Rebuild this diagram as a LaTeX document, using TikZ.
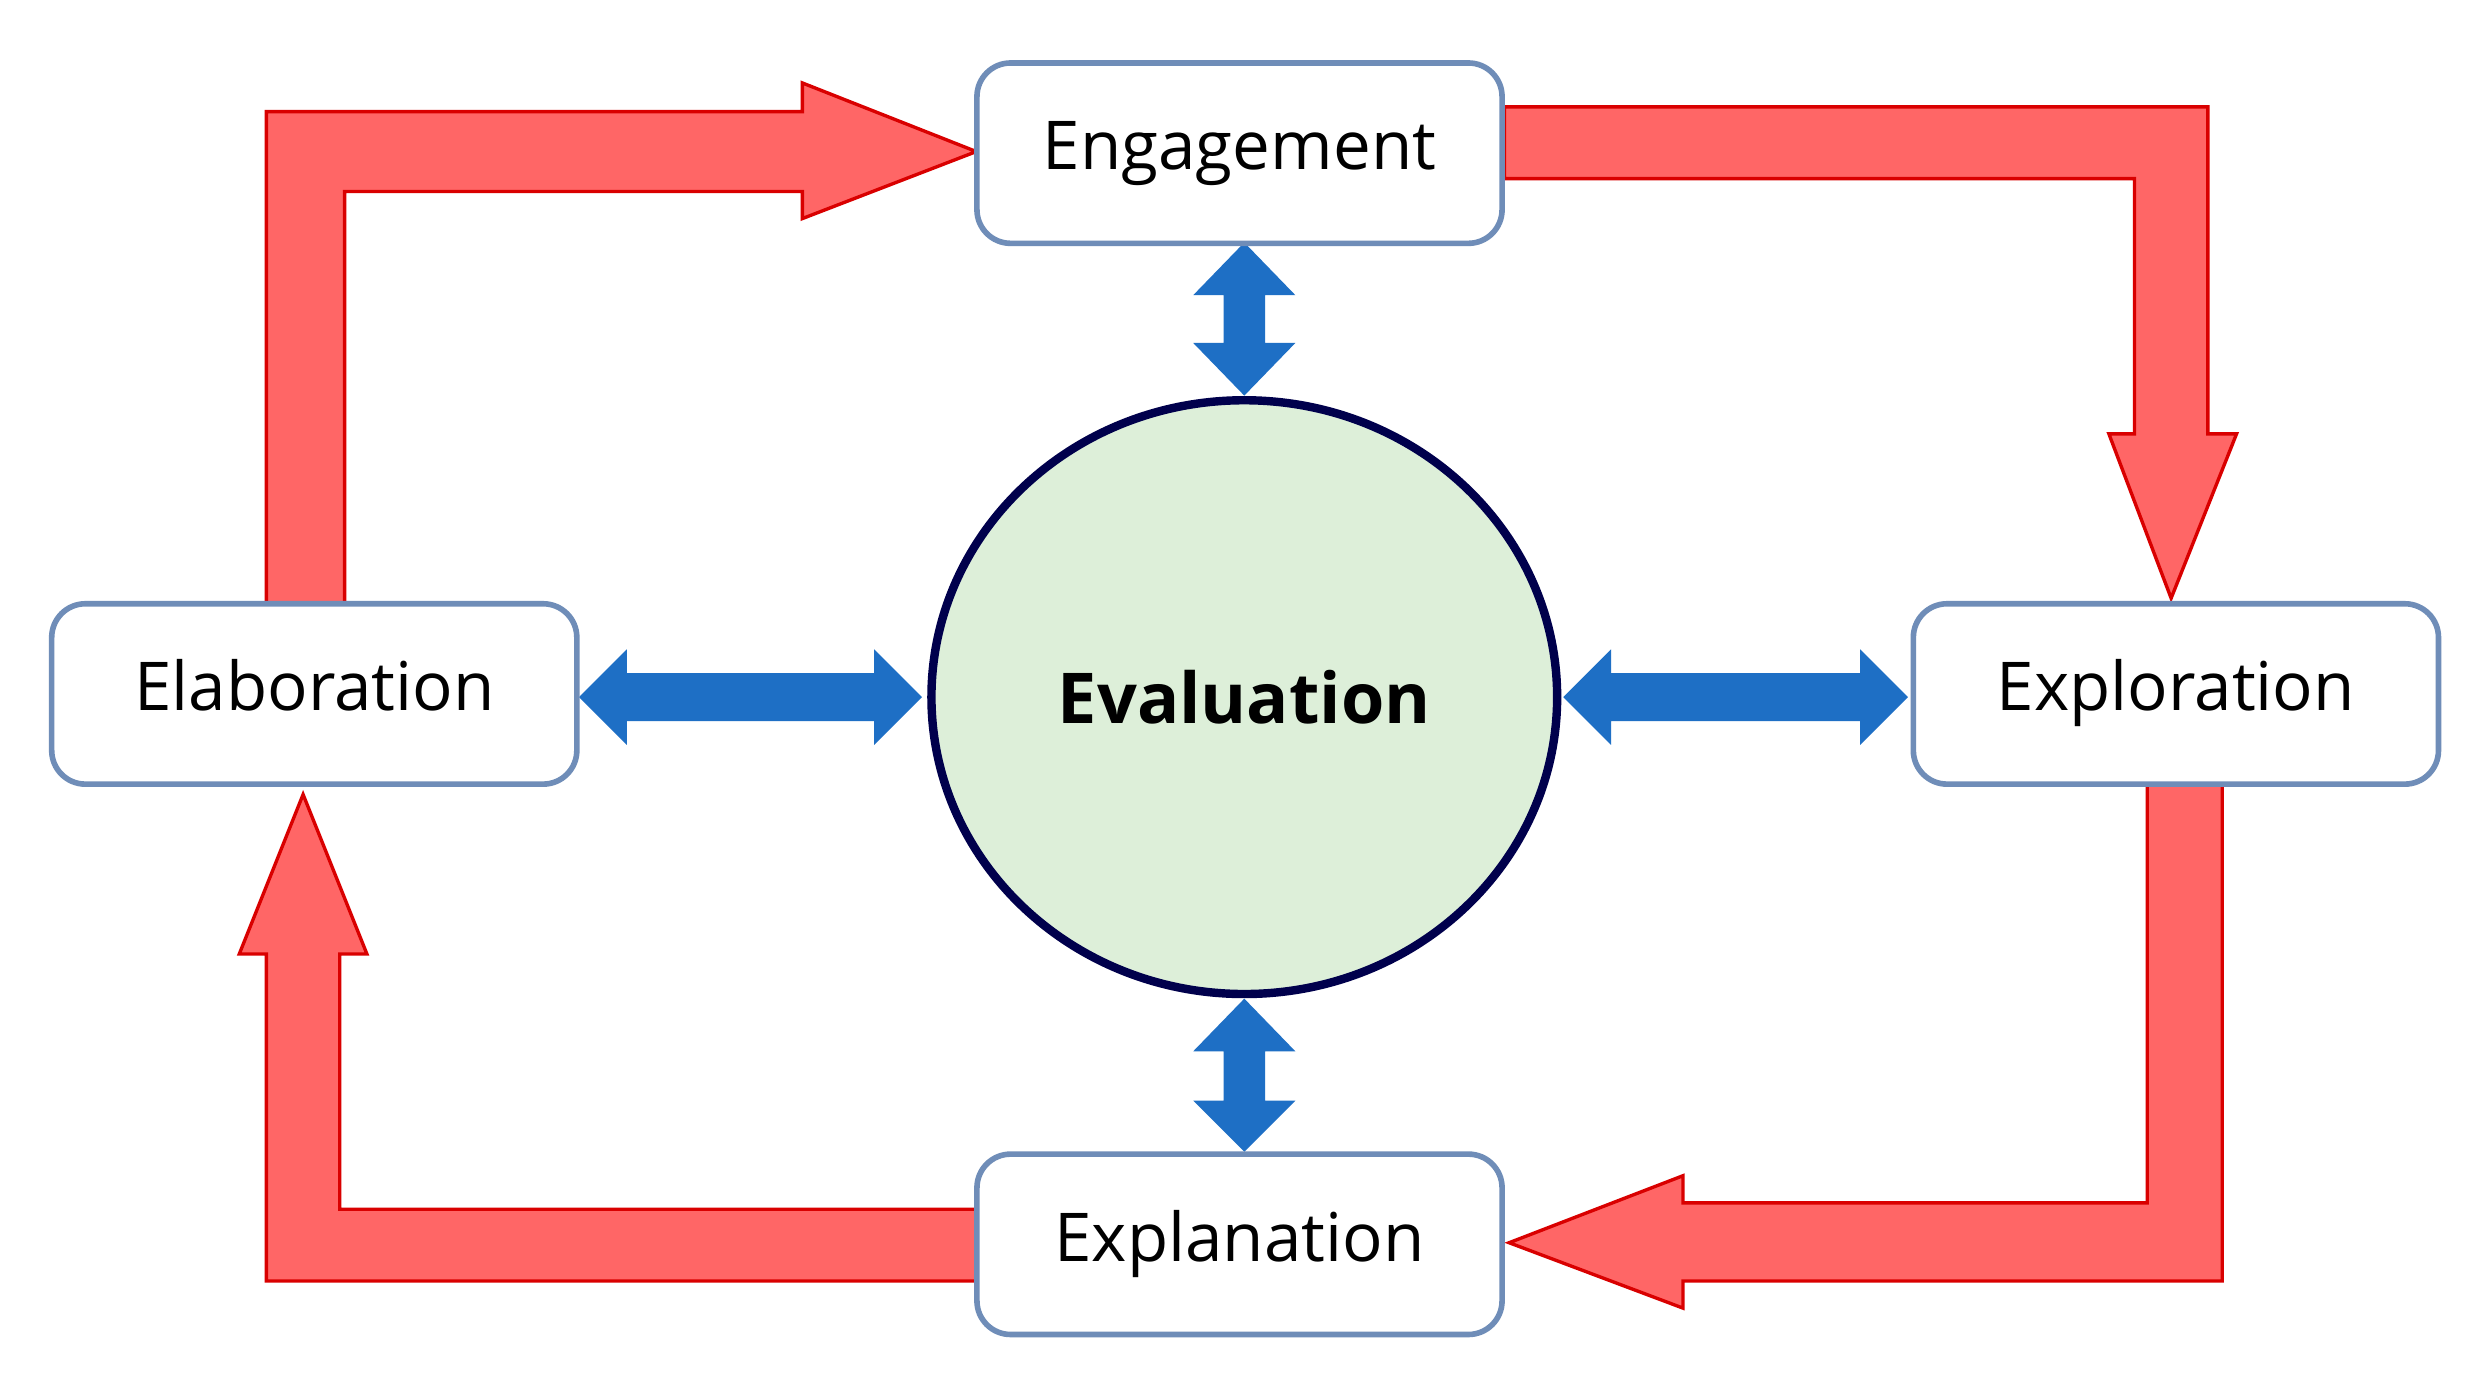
\documentclass[tikz,border=0pt]{standalone}
\usepackage{fontspec}
\usetikzlibrary{shapes.geometric}
\setmainfont{Open Sans}
\definecolor{evfill}{HTML}{DDEFD9}
\definecolor{bluarr}{HTML}{1E6FC5}
\definecolor{redarr}{HTML}{FF6666}
\definecolor{boxline}{HTML}{6F8DB8}
\begin{document}
\begin{tikzpicture}[x=0.01cm,y=-0.01cm,
  box/.style={draw=boxline,line width=1pt,rounded corners=6pt,fill=white,minimum width=3.29cm,minimum height=1.13cm,text height=9pt,text depth=3pt,font=\fontsize{12}{14}\selectfont},
  red/.style={fill=redarr,draw=red!85!black,line width=0.6pt},
  blu/.style={fill=bluarr,draw=none}]
\useasboundingbox[fill=white] (0,0) rectangle (1559,866);
\draw[red] (167,378)--(167,70)--(503,70)--(503,52)--(612,95)--(503,137)--(503,120)--(216,120)--(216,378)--cycle;
\draw[red] (943,67)--(1384,67)--(1384,272)--(1402,272)--(1361,375)--(1322,272)--(1338,272)--(1338,112)--(943,112)--cycle;
\draw[red] (1346,492)--(1393,492)--(1393,803)--(1055,803)--(1055,820)--(946,779)--(1055,737)--(1055,754)--(1346,754)--cycle;
\draw[red] (612,758)--(612,803)--(167,803)--(167,598)--(150,598)--(190,498)--(230,598)--(213,598)--(213,758)--cycle;
\fill[blu] (780,152)--(812,185)--(793,185)--(793,215)--(812,215)--(780,248)--(748,215)--(767,215)--(767,185)--(748,185)--cycle;
\fill[blu] (780,626)--(812,659)--(793,659)--(793,690)--(812,690)--(780,722)--(748,690)--(767,690)--(767,659)--(748,659)--cycle;
\fill[blu] (363,437)--(393,407)--(393,422)--(548,422)--(548,407)--(578,437)--(548,467)--(548,452)--(393,452)--(393,467)--cycle;
\fill[blu] (980,437)--(1010,407)--(1010,422)--(1166,422)--(1166,407)--(1196,437)--(1166,467)--(1166,452)--(1010,452)--(1010,467)--cycle;
\node[box] (eng) at (777,96) {Engagement};
\node[box] (ela) at (197,435) {Elaboration};
\node[box] (exr) at (1364,435) {Exploration};
\node[box] (exp) at (777,780) {Explanation};
\node[draw=blue!30!black,line width=1.5pt,fill=evfill,ellipse,inner sep=0pt,minimum width=3.92cm,minimum height=3.72cm,font=\fontsize{12.5}{15}\selectfont\bfseries] (eva) at (780,437) {Evaluation};
\end{tikzpicture}
\end{document}
